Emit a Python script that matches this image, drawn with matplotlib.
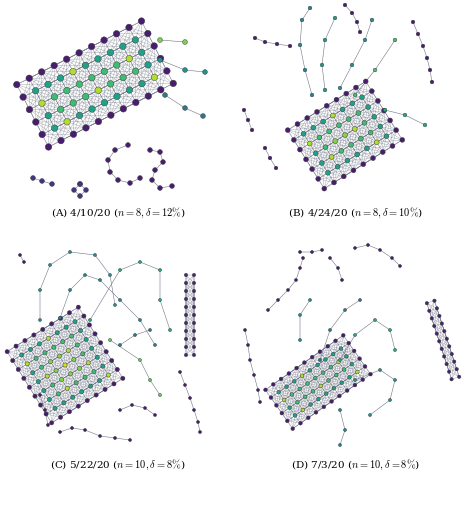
import numpy as np
import matplotlib
matplotlib.use("Agg")
import matplotlib.pyplot as plt
from matplotlib import cm

plt.rcParams['mathtext.fontset'] = 'cm'

captions = [r'(A) 4/10/20 ($n = 8, \delta = 12\%$)',
            r'(B) 4/24/20 ($n = 8, \delta = 10\%$)',
            r'(C) 5/22/20 ($n = 10, \delta = 8\%$)',
            r'(D) 7/3/20 ($n = 10, \delta = 8\%$)']

# grids: (cx, cy, rows, cols, angle_deg, spacing, node_size)
grids = [
    [(95, 84, 6, 11, -27, 14, 22)],
    [(345, 135, 7, 9, -32, 11.5, 12)],
    [(65, 365, 9, 9, -32, 10.5, 9), (190, 315, 2, 11, 90, 8, 6)],
    [(318, 382, 6, 11, -35, 9.5, 7), (443, 340, 2, 11, 72, 8, 6)],
]

chains_A = [
    ([(128, 145), (115, 150), (108, 160), (110, 172), (118, 180), (130, 183), (140, 178)], 0.08),
    ([(150, 150), (160, 152), (163, 162), (155, 170), (152, 180), (160, 188), (172, 186)], 0.08),
    ([(80, 184), (86, 190), (80, 196), (74, 190), (80, 184)], 0.15),
    ([(33, 178), (42, 181), (52, 184)], 0.15),
    ([(165, 95), (185, 108), (203, 116)], 0.4),
    ([(160, 60), (185, 70), (205, 72)], 0.5),
    ([(160, 40), (185, 42)], 0.8),
]
chains_B = [
    ([(255, 38), (265, 42), (277, 44), (290, 46)], 0.08),
    ([(345, 5), (352, 13), (357, 22), (360, 32)], 0.08),
    ([(413, 22), (418, 34), (423, 46), (427, 58), (430, 70), (432, 82)], 0.08),
    ([(244, 110), (248, 120), (252, 130)], 0.08),
    ([(265, 148), (270, 158), (276, 168)], 0.08),
    ([(312, 95), (305, 70), (300, 45), (302, 20), (310, 8)], 0.45),
    ([(325, 90), (322, 65), (325, 40), (335, 18)], 0.55),
    ([(340, 88), (352, 65), (365, 40), (372, 20)], 0.5),
    ([(355, 95), (375, 70), (395, 40)], 0.7),
    ([(385, 110), (405, 115), (425, 125)], 0.6),
]
chains_C = [
    ([(20, 255), (24, 262)], 0.08),
    ([(40, 320), (40, 290), (50, 265), (70, 252), (95, 255), (110, 275), (115, 305)], 0.5),
    ([(60, 318), (70, 290), (85, 275), (100, 280), (120, 300), (140, 320), (155, 345)], 0.45),
    ([(90, 320), (120, 270), (140, 262), (160, 270), (160, 300), (170, 330)], 0.6),
    ([(110, 340), (140, 360), (150, 380), (160, 395)], 0.75),
    ([(120, 345), (135, 335), (150, 330)], 0.4),
    ([(180, 372), (185, 385), (190, 398), (194, 410), (198, 422), (200, 432)], 0.08),
    ([(120, 410), (132, 405), (145, 408), (155, 415)], 0.08),
    ([(60, 432), (72, 428), (85, 430), (100, 436), (115, 438), (130, 440)], 0.08),
    ([(40, 395), (45, 410), (48, 425)], 0.08),
]
chains_D = [
    ([(245, 330), (248, 345), (250, 360), (254, 375), (258, 390), (260, 402)], 0.08),
    ([(268, 310), (278, 300), (288, 290), (296, 280), (300, 268), (303, 258)], 0.08),
    ([(300, 252), (312, 252), (322, 250)], 0.08),
    ([(330, 258), (338, 268), (342, 280)], 0.08),
    ([(355, 248), (368, 245), (380, 250), (392, 258), (400, 266)], 0.08),
    ([(320, 360), (330, 330), (345, 310), (360, 300)], 0.4),
    ([(340, 360), (355, 335), (375, 320), (390, 330), (395, 350)], 0.6),
    ([(355, 380), (380, 370), (395, 380), (390, 400), (370, 415)], 0.5),
    ([(300, 340), (300, 315), (310, 300)], 0.5),
    ([(340, 410), (345, 430), (340, 445)], 0.45),
]
chains = [chains_A, chains_B, chains_C, chains_D]
chain_sizes = [12, 7, 5, 5]

fig = plt.figure(figsize=(4.74, 5.08), dpi=100)
ax = fig.add_axes([0, 0, 1, 1])
ax.set_xlim(0, 474)
ax.set_ylim(508, 0)
ax.axis('off')
cmap = cm.get_cmap('viridis')

for p in range(4):
    for (cx, cy, r, c, ang, s, ns) in grids[p]:
        a = np.deg2rad(ang)
        ii, jj = np.meshgrid(np.arange(r), np.arange(c), indexing='ij')
        u = (jj - (c - 1) / 2) * s
        v = (ii - (r - 1) / 2) * s
        xs = cx + u * np.cos(a) - v * np.sin(a)
        ys = cy + u * np.sin(a) + v * np.cos(a)
        xs, ys = xs.ravel(), ys.ravel()
        I, J = ii.ravel(), jj.ravel()
        n = len(xs)
        for k in range(n):
            for m in range(k + 1, n):
                di, dj = abs(I[k] - I[m]), abs(J[k] - J[m])
                if (di <= 1 and dj <= 2) or (di == 2 and dj <= 1) or (di == 0 and dj == 3):
                    ax.plot([xs[k], xs[m]], [ys[k], ys[m]], color='#707585',
                            lw=0.35, alpha=0.6, zorder=1)
        edge = np.minimum(np.minimum(I, r - 1 - I), np.minimum(J, c - 1 - J))
        val = np.where(edge == 0, 0.08, 0.45 + 0.12 * edge)
        if r > 2:
            val = np.where((edge > 0) & ((I * 3 + J) % 7 == 0), 0.88, val)
        else:
            val = np.full(n, 0.1)
        ax.scatter(xs, ys, s=ns, c=cmap(np.clip(val, 0, 1)), edgecolors='#333333',
                   linewidths=0.3, zorder=3)
    for pts, v in chains[p]:
        pts = np.array(pts, float)
        ax.plot(pts[:, 0], pts[:, 1], color='#707585', lw=0.4, zorder=1)
        ax.scatter(pts[:, 0], pts[:, 1], s=chain_sizes[p], c=[cmap(v)] * len(pts),
                   edgecolors='#333333', linewidths=0.3, zorder=3)

cap_pos = [(118, 213), (356, 213), (118, 465), (356, 465)]
for (x, y), t in zip(cap_pos, captions):
    ax.text(x, y, t, ha='center', va='center', fontsize=7.5, family='DejaVu Serif')

fig.savefig('out.png', dpi=100)
